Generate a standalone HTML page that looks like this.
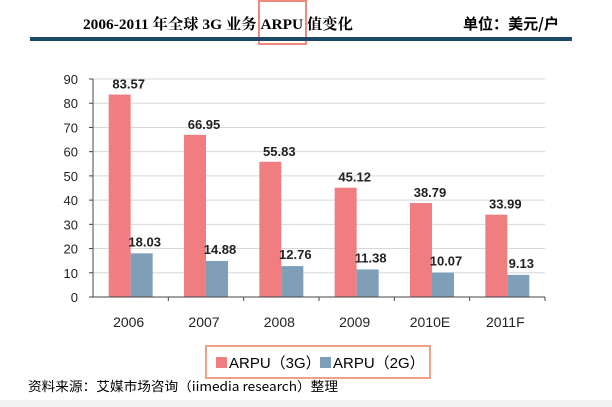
<!DOCTYPE html>
<html><head><meta charset="utf-8"><style>
body{margin:0;background:#fff;}
svg{display:block;font-family:"Liberation Sans","Noto Sans CJK SC",sans-serif;}
</style></head><body>
<svg width="612" height="407" viewBox="0 0 612 407">
<text x="83" y="29" font-family="Liberation Serif,Noto Serif CJK SC,serif" font-weight="bold" font-size="15" textLength="270" lengthAdjust="spacingAndGlyphs">2006-2011 年全球 3G 业务 ARPU 值变化</text>
<rect x="259" y="1" width="47" height="43" fill="none" stroke="#f08a7a" stroke-width="2"/>
<text x="463" y="29" font-weight="bold" font-size="15" textLength="96" lengthAdjust="spacingAndGlyphs" font-family="Noto Sans CJK SC,sans-serif">单位：美元/户</text>
<rect x="30" y="37" width="542" height="4" fill="#1c4a66"/>
<g id="grid"></g><g id="bars"></g><g id="axes"></g>
<rect x="206" y="346" width="224" height="32" fill="none" stroke="#f0a088" stroke-width="2"/>
<rect x="216" y="357" width="11" height="11" fill="#f07e80"/>
<text x="229" y="368" font-size="15">ARPU（3G）</text>
<rect x="320" y="357" width="11" height="11" fill="#7f9fb8"/>
<text x="333" y="368" font-size="15">ARPU（2G）</text>
<text x="28" y="391" font-size="13" textLength="310" lengthAdjust="spacingAndGlyphs" font-family="Noto Sans CJK SC,sans-serif">资料来源：艾媒市场咨询（iimedia research）整理</text>
<rect x="0" y="400" width="612" height="7" fill="#f2f2f2"/>
</svg>
<script>
const categories=["2006","2007","2008","2009","2010E","2011F"];
const arpu3g=[83.57,66.95,55.83,45.12,38.79,33.99];
const arpu2g=[18.03,14.88,12.76,11.38,10.07,9.13];
const yTicks=[0,10,20,30,40,50,60,70,80,90];
const NS="http://www.w3.org/2000/svg";
const x0=93,x1=545,y0=297,yTop=79,yMax=90;
const y=v=>y0-(v/yMax)*(y0-yTop);
const bw=(x1-x0)/categories.length;
const xc=i=>x0+bw*(i+0.5);
function mk(t,a,p){const e=document.createElementNS(NS,t);for(const k in a)e.setAttribute(k,a[k]);document.getElementById(p).appendChild(e);return e;}
yTicks.forEach(t=>{
 if(t>0){const g=mk('line',{x1:x0,x2:x1,y1:y(t),y2:y(t),stroke:'#d8d8d8','stroke-width':1},'grid');
 
 }
 const tk=mk('line',{x1:x0-4,x2:x0,y1:y(t),y2:y(t),stroke:'#444'},'axes');
 
 
 const l=mk('text',{x:x0-15,y:y(t)+5,'text-anchor':'end','font-size':13,fill:'#222'},'axes');l.textContent=t;
 
 
});
const ya=mk('line',{x1:x0,x2:x0,y1:yTop,y2:y0,stroke:'#444'},'axes');


const xa=mk('line',{x1:x0,x2:x1,y1:y0,y2:y0,stroke:'#444'},'axes');


categories.forEach((c,i)=>{
 const cx=xc(i),w=22;
 const r=mk('rect',{x:cx-w,y:y(arpu3g[i]),width:w,height:y0-y(arpu3g[i]),fill:'#f07e80'},'bars');
 
 
 const b=mk('rect',{x:cx,y:y(arpu2g[i]),width:w,height:y0-y(arpu2g[i]),fill:'#7f9fb8'},'bars');
 
 
 const l1=mk('text',{x:cx-w/2+9,y:y(arpu3g[i])-6,'text-anchor':'middle','font-size':13,'font-weight':'bold',fill:'#222'},'bars');l1.textContent=arpu3g[i].toFixed(2);
 
 
 const l2=mk('text',{x:cx+w/2+3,y:y(arpu2g[i])-7,'text-anchor':'middle','font-size':13,'font-weight':'bold',fill:'#222'},'bars');l2.textContent=arpu2g[i].toFixed(2);
 
 
 const t=mk('line',{x1:x0+bw*(i+1),x2:x0+bw*(i+1),y1:y0,y2:y0+4,stroke:'#444'},'axes');
 
 
 const xl=mk('text',{x:cx-2,y:y0+30,'text-anchor':'middle','font-size':14,fill:'#222'},'axes');xl.textContent=c;
 
 
});
</script>
</body></html>
